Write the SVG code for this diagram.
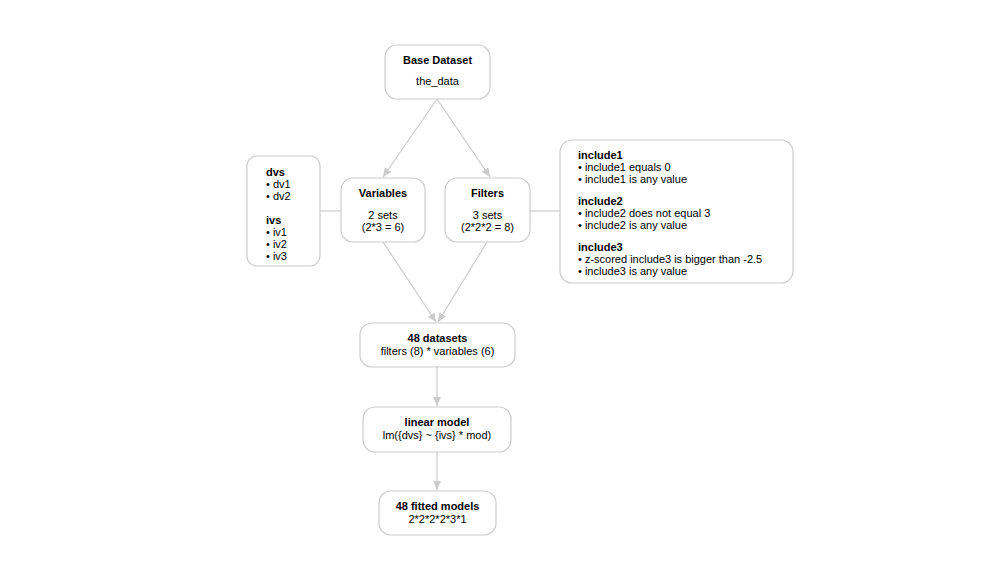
<svg xmlns="http://www.w3.org/2000/svg" width="1000" height="580" viewBox="0 0 1000 580">
<style>
.n{fill:#fff;stroke:#ccc;stroke-width:1.2}
text{font-family:"Liberation Sans",Arial,sans-serif;font-size:11px;fill:#000}
.b{font-weight:bold}
.c{text-anchor:middle}
.e{stroke:#ccc;stroke-width:1.2;fill:none}
</style>
<defs><marker id="a" markerWidth="10" markerHeight="10" refX="9" refY="5" orient="auto" markerUnits="userSpaceOnUse"><path d="M0,1 L9,5 L0,9 z" fill="#ccc"/></marker></defs>
<rect width="1000" height="580" fill="#fff"/>
<g id="edges">
<path class="e" d="M437,99 L383,177" marker-end="url(#a)"/>
<path class="e" d="M437,99 L490,177" marker-end="url(#a)"/>
<path class="e" d="M383,242 L436,322" marker-end="url(#a)"/>
<path class="e" d="M487,242 L438,322" marker-end="url(#a)"/>
<path class="e" d="M320,211 L341,211"/>
<path class="e" d="M530,211 L560,211"/>
<path class="e" d="M437,367 L437,406" marker-end="url(#a)"/>
<path class="e" d="M437,452 L437,490" marker-end="url(#a)"/>
</g>
<g id="base"><rect class="n" x="385" y="45" width="105" height="54" rx="12"/>
<text class="b c" x="437.5" y="64">Base Dataset</text><text class="c" x="437.5" y="85">the_data</text></g>
<g id="vars"><rect class="n" x="247" y="156" width="73" height="110" rx="10"/>
<text x="266" y="176"><tspan class="b">dvs</tspan><tspan x="266" dy="12">• dv1</tspan><tspan x="266" dy="12">• dv2</tspan><tspan x="266" dy="24" class="b">ivs</tspan><tspan x="266" dy="12">• iv1</tspan><tspan x="266" dy="12">• iv2</tspan><tspan x="266" dy="12">• iv3</tspan></text></g>
<g id="variables"><rect class="n" x="341" y="178" width="84" height="64" rx="12"/>
<text class="b c" x="383" y="197">Variables</text><text class="c" x="383" y="219">2 sets</text><text class="c" x="383" y="231">(2*3 = 6)</text></g>
<g id="filters"><rect class="n" x="445" y="178" width="85" height="64" rx="12"/>
<text class="b c" x="487.5" y="197">Filters</text><text class="c" x="487.5" y="219">3 sets</text><text class="c" x="487.5" y="231">(2*2*2 = 8)</text></g>
<g id="filterlist"><rect class="n" x="560" y="140" width="233" height="143" rx="12"/>
<text x="578" y="159"><tspan class="b">include1</tspan><tspan x="578" dy="12">• include1 equals 0</tspan><tspan x="578" dy="12">• include1 is any value</tspan><tspan x="578" dy="22" class="b">include2</tspan><tspan x="578" dy="12">• include2 does not equal 3</tspan><tspan x="578" dy="12">• include2 is any value</tspan><tspan x="578" dy="22" class="b">include3</tspan><tspan x="578" dy="12">• z-scored include3 is bigger than -2.5</tspan><tspan x="578" dy="12">• include3 is any value</tspan></text></g>
<g id="datasets"><rect class="n" x="360" y="323" width="155" height="44" rx="12"/>
<text class="b c" x="437.5" y="342">48 datasets</text><text class="c" x="437.5" y="355">filters (8) * variables (6)</text></g>
<g id="model"><rect class="n" x="363" y="407" width="148" height="45" rx="12"/>
<text class="b c" x="437" y="426">linear model</text><text class="c" x="437" y="439">lm({dvs} ~ {ivs} * mod)</text></g>
<g id="fitted"><rect class="n" x="379" y="491" width="117" height="44" rx="12"/>
<text class="b c" x="437.5" y="510">48 fitted models</text><text class="c" x="437.5" y="523">2*2*2*2*3*1</text></g>
</svg>
